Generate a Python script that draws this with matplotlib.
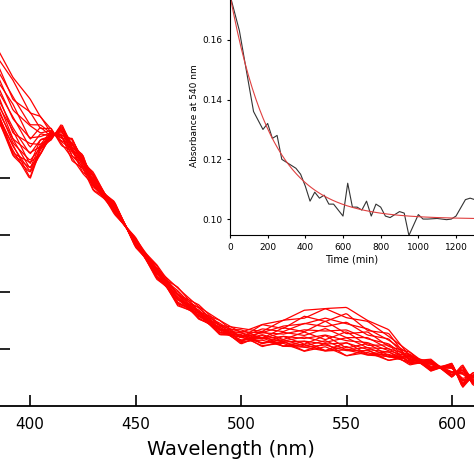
import numpy as np
import matplotlib.pyplot as plt

# spectra (absorbance units arbitrary)
wl = [385, 392, 400, 405, 410, 415, 420, 425, 430, 440, 450, 460, 470, 480, 490, 500, 510, 520, 530, 540, 550, 560, 570, 580, 590, 600, 605, 610]
spec_start = [0.312, 0.290, 0.268, 0.255, 0.242, 0.232, 0.216, 0.205, 0.192, 0.172, 0.146, 0.122, 0.102, 0.088, 0.074, 0.066, 0.070, 0.076, 0.083, 0.087, 0.085, 0.076, 0.066, 0.045, 0.037, 0.032, 0.028, 0.027]
spec_end   = [0.250, 0.220, 0.202, 0.222, 0.236, 0.242, 0.232, 0.218, 0.200, 0.175, 0.142, 0.115, 0.092, 0.078, 0.065, 0.058, 0.056, 0.053, 0.050, 0.049, 0.047, 0.045, 0.042, 0.040, 0.035, 0.031, 0.025, 0.022]
noise = [0.0, 0.004, -0.003, 0.003, -0.002, 0.004, -0.003, 0.002, -0.004, 0.003, -0.002, 0.003, -0.003, 0.002, -0.002, 0.003, -0.003, 0.002, -0.002, 0.003, -0.003, 0.002, -0.002, 0.003, -0.003, 0.004, -0.006, 0.003]
fractions = [1.0, 0.88, 0.78, 0.70, 0.62, 0.55, 0.48, 0.42, 0.36, 0.31, 0.26, 0.22, 0.18, 0.14, 0.11, 0.08, 0.06, 0.04, 0.02, 0.0]

t = [0, 50, 100, 125, 175, 200, 225, 250, 275, 300, 350, 375, 400, 425, 450, 475, 500, 525, 550, 600, 625, 650, 675, 700, 725, 750, 775, 800, 825, 850, 875, 900, 925, 950, 1000, 1025, 1050, 1100, 1150, 1175, 1200, 1250, 1275, 1300]
a540 = [0.175, 0.163, 0.145, 0.136, 0.130, 0.132, 0.127, 0.128, 0.120, 0.119, 0.117, 0.115, 0.111, 0.106, 0.109, 0.107, 0.108, 0.105, 0.105, 0.101, 0.112, 0.104, 0.104, 0.103, 0.106, 0.101, 0.105, 0.104, 0.101, 0.1005, 0.1015, 0.1025, 0.102, 0.0945, 0.1015, 0.100, 0.100, 0.1002, 0.0998, 0.100, 0.101, 0.1065, 0.107, 0.1065]
fit_A0, fit_A1, fit_tau = 0.100, 0.075, 220.0

wl = np.array(wl); s0 = np.array(spec_start); s1 = np.array(spec_end); nz = np.array(noise)
fig = plt.figure(figsize=(4.74, 4.74), dpi=100)
pxnm = 422/200
left_px = 30 - 20*pxnm
ax = fig.add_axes([left_px/474, 68/474, (474-left_px)/474, 1.0])
ax.set_xlim(380, 380 + (474-left_px)/pxnm)
ax.set_ylim(0, 474.0/57*0.05)
w_fine = np.linspace(385, 612, 300)
for i, f in enumerate(fractions):
    y = s1 + (s0 - s1) * f + nz * (1 if i % 2 else -1) * (0.5 + 0.5*(i % 3))
    ax.plot(w_fine, np.interp(w_fine, wl, y), color='#ff0000', lw=0.9)
ax.set_xticks([400, 450, 500, 550, 600])
ax.set_yticks([0.05, 0.10, 0.15, 0.20])
ax.set_yticklabels([])
ax.tick_params(axis='y', direction='in', length=16, width=1.2)
ax.tick_params(axis='x', direction='in', length=8, width=1.2, labelsize=11, pad=8)
ax.set_xlabel('Wavelength (nm)', fontsize=14, labelpad=6)
for s in ['top', 'right']:
    ax.spines[s].set_visible(False)
ax.spines['bottom'].set_linewidth(1.3)

ppm = 226/1200
ia = fig.add_axes([230/474, (474-235)/474, (474-230)/474, 235/474 + 0.01])
ia.set_xlim(0, (474-230)/ppm)
ia.set_ylim(0.10 - 16/3000, 0.16 + 40/3000 + 0.01*474/3000)
ia.plot(t, a540, color='#333333', lw=0.8)
tf = np.linspace(0, 1300, 200)
ia.plot(tf, fit_A0 + fit_A1*np.exp(-tf/fit_tau), color='#e04040', lw=0.8)
ia.set_xticks([0, 200, 400, 600, 800, 1000, 1200])
ia.set_yticks([0.10, 0.12, 0.14, 0.16])
ia.tick_params(labelsize=6.5, length=2)
ia.set_xlabel('Time (min)', fontsize=7, labelpad=2)
ia.set_ylabel('Absorbance at 540 nm', fontsize=6.5, labelpad=2)
for s in ['top', 'right']:
    ia.spines[s].set_visible(False)
fig.savefig('out.png', dpi=100)
